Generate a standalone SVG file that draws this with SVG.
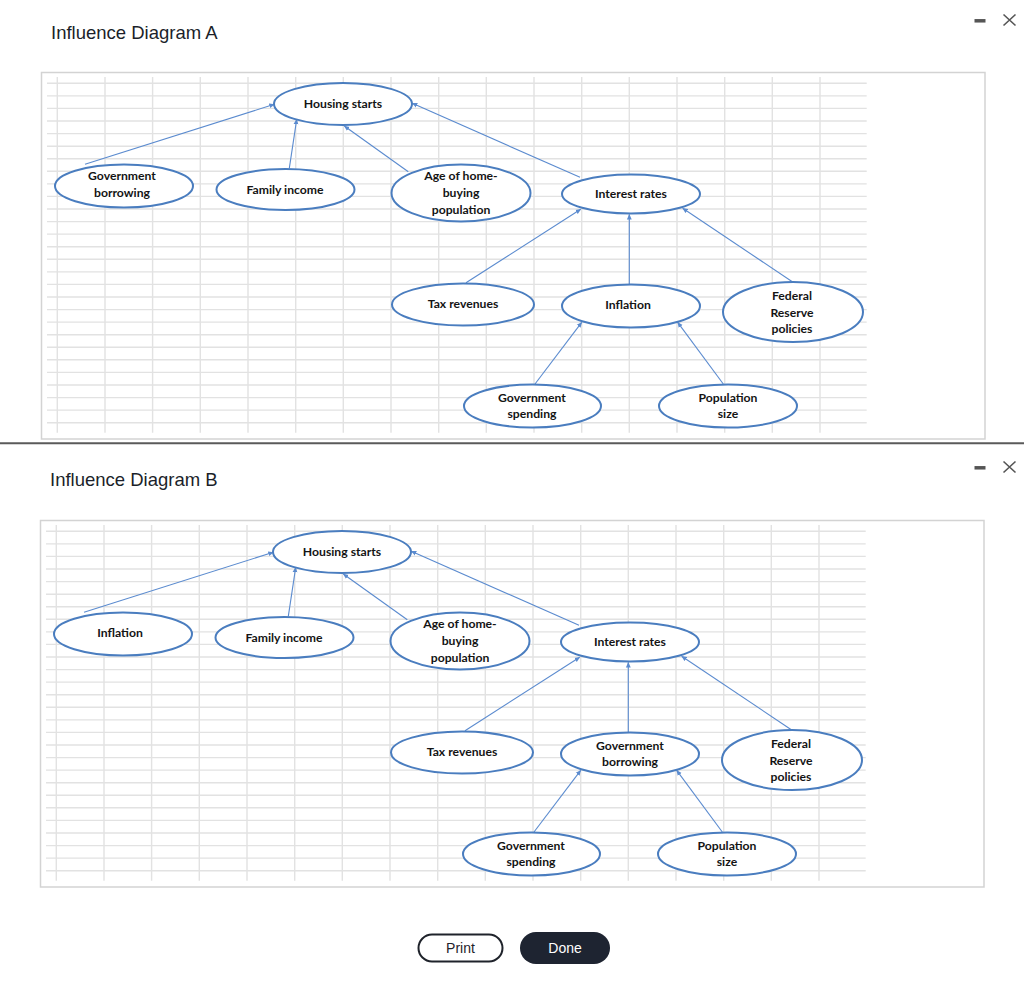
<svg xmlns="http://www.w3.org/2000/svg" xmlns:xlink="http://www.w3.org/1999/xlink" width="1024" height="986" viewBox="0 0 1024 986">
<style>
.title{font-family:Arial,"Liberation Sans",sans-serif;font-size:18.5px;fill:#1b1f2a}
.panel{fill:#ffffff;stroke:#d3d3d3;stroke-width:1.5}
.grid{fill:none;stroke:#e2e2e2;stroke-width:1.4}
.node ellipse{fill:#ffffff;stroke:#4a7dbf;stroke-width:2}
.node text{font-family:Lato,"Open Sans",sans-serif;font-weight:bold;font-size:12.2px;fill:#141414;text-anchor:middle}
.edge{stroke:#5b8bcf;stroke-width:1.1;fill:none;marker-end:url(#ah)}
.icon{stroke:#555;fill:none}
.btn{font-family:Arial,"Liberation Sans",sans-serif;font-size:14px;text-anchor:middle}
</style>
<defs>
<marker id="ah" markerWidth="6" markerHeight="6" refX="5" refY="3" orient="auto" markerUnits="userSpaceOnUse">
<path d="M0,0.6 L5.5,3 L0,5.4 Z" fill="#5b8bcf"/>
</marker>
<path id="gridpath" class="grid" d="M47,83.3H866.7M47,95.9H866.7M47,108.4H866.7M47,121H866.7M47,133.6H866.7M47,146.2H866.7M47,158.7H866.7M47,171.3H866.7M47,183.9H866.7M47,196.4H866.7M47,209H866.7M47,221.6H866.7M47,234.1H866.7M47,246.7H866.7M47,259.3H866.7M47,271.9H866.7M47,284.4H866.7M47,297H866.7M47,309.6H866.7M47,322.1H866.7M47,334.7H866.7M47,347.3H866.7M47,359.8H866.7M47,372.4H866.7M47,385H866.7M47,397.6H866.7M47,410.1H866.7M47,422.7H866.7M57.3,77V432.7M105,77V432.7M152.6,77V432.7M200.3,77V432.7M248,77V432.7M295.7,77V432.7M343.3,77V432.7M391,77V432.7M438.7,77V432.7M486.3,77V432.7M534,77V432.7M581.7,77V432.7M629.3,77V432.7M677,77V432.7M724.7,77V432.7M772.3,77V432.7M820,77V432.7"/>
</defs>
<rect width="1024" height="986" fill="#ffffff"/>

<!-- Header A -->
<text class="title" x="51" y="39">Influence Diagram A</text>
<path class="icon" d="M974.5,20.8H985.5" stroke-width="3.5"/>
<path class="icon" d="M1003.5,14.5L1015.5,25.5M1015.5,14.5L1003.5,25.5" stroke-width="1.6"/>

<!-- Panel A -->
<g id="panelA">
<rect class="panel" x="41.5" y="72.5" width="943.5" height="366.5"/>
<use xlink:href="#gridpath"/>
<g id="edgesA">
<path class="edge" d="M85,164.3L274.3,104.3"/>
<path class="edge" d="M289.3,168.3L296.7,119.3"/>
<path class="edge" d="M408.3,171.7L344.3,126"/>
<path class="edge" d="M580,177.3L412.3,103.3"/>
<path class="edge" d="M466,282.7L580.7,209.3"/>
<path class="edge" d="M629.3,284.5L629.3,214.5"/>
<path class="edge" d="M792.3,281.7L682.7,208.3"/>
<path class="edge" d="M535,384L581.7,322.3"/>
<path class="edge" d="M723.3,384L677.7,322.3"/>
</g>
<g id="A-housing" class="node"><ellipse cx="343" cy="104" rx="69" ry="21"/><text x="343" y="108">Housing starts</text></g>
<g id="A-govborrow" class="node"><ellipse cx="124" cy="186" rx="69" ry="21.5"/><text x="122" y="180">Government</text><text x="122" y="196.5">borrowing</text></g>
<g id="A-family" class="node"><ellipse cx="285.5" cy="189.5" rx="69" ry="20.5"/><text x="285" y="194">Family income</text></g>
<g id="A-age" class="node"><ellipse cx="461" cy="193" rx="69.5" ry="28.5"/><text x="461" y="180">Age of home-</text><text x="461" y="196.5">buying</text><text x="461" y="213.5">population</text></g>
<g id="A-interest" class="node"><ellipse cx="631" cy="194" rx="69" ry="19.5"/><text x="631" y="197.5">Interest rates</text></g>
<g id="A-tax" class="node"><ellipse cx="463" cy="304.5" rx="71" ry="21"/><text x="463" y="308">Tax revenues</text></g>
<g id="A-inflation" class="node"><ellipse cx="631" cy="306" rx="69" ry="21.5"/><text x="628" y="309">Inflation</text></g>
<g id="A-fed" class="node"><ellipse cx="793" cy="312" rx="70" ry="30"/><text x="792" y="300">Federal</text><text x="792" y="316.5">Reserve</text><text x="792" y="333">policies</text></g>
<g id="A-govspend" class="node"><ellipse cx="532.5" cy="406" rx="68.5" ry="21.5"/><text x="532" y="401.5">Government</text><text x="532" y="418">spending</text></g>
<g id="A-pop" class="node"><ellipse cx="728" cy="406" rx="69" ry="21.5"/><text x="728" y="401.5">Population</text><text x="728" y="418">size</text></g>
</g>

<!-- Separator -->
<path d="M0,443.3H1024" stroke="#5a5a5a" stroke-width="2"/>

<!-- Header B -->
<text class="title" x="50" y="486">Influence Diagram B</text>
<path class="icon" d="M974.5,467.8H985.5" stroke-width="3.5"/>
<path class="icon" d="M1003.5,461.5L1015.5,472.5M1015.5,461.5L1003.5,472.5" stroke-width="1.6"/>

<!-- Panel B -->
<g id="panelB" transform="translate(-1,448)">
<rect class="panel" x="41.5" y="72.5" width="943.5" height="366.5"/>
<use xlink:href="#gridpath"/>
<g id="edgesB">
<path class="edge" d="M85,164.3L274.3,104.3"/>
<path class="edge" d="M289.3,168.3L296.7,119.3"/>
<path class="edge" d="M408.3,171.7L344.3,126"/>
<path class="edge" d="M580,177.3L412.3,103.3"/>
<path class="edge" d="M466,282.7L580.7,209.3"/>
<path class="edge" d="M629.3,284.5L629.3,214.5"/>
<path class="edge" d="M792.3,281.7L682.7,208.3"/>
<path class="edge" d="M535,384L581.7,322.3"/>
<path class="edge" d="M723.3,384L677.7,322.3"/>
</g>
<g id="B-housing" class="node"><ellipse cx="343" cy="104" rx="69" ry="21"/><text x="343" y="108">Housing starts</text></g>
<g id="B-inflation" class="node"><ellipse cx="124" cy="186" rx="69" ry="21.5"/><text x="121" y="189">Inflation</text></g>
<g id="B-family" class="node"><ellipse cx="285.5" cy="189.5" rx="69" ry="20.5"/><text x="285" y="194">Family income</text></g>
<g id="B-age" class="node"><ellipse cx="461" cy="193" rx="69.5" ry="28.5"/><text x="461" y="180">Age of home-</text><text x="461" y="196.5">buying</text><text x="461" y="213.5">population</text></g>
<g id="B-interest" class="node"><ellipse cx="631" cy="194" rx="69" ry="19.5"/><text x="631" y="197.5">Interest rates</text></g>
<g id="B-tax" class="node"><ellipse cx="463" cy="304.5" rx="71" ry="21"/><text x="463" y="308">Tax revenues</text></g>
<g id="B-govborrow" class="node"><ellipse cx="631" cy="306" rx="69" ry="21.5"/><text x="631" y="301.5">Government</text><text x="631" y="318">borrowing</text></g>
<g id="B-fed" class="node"><ellipse cx="793" cy="312" rx="70" ry="30"/><text x="792" y="300">Federal</text><text x="792" y="316.5">Reserve</text><text x="792" y="333">policies</text></g>
<g id="B-govspend" class="node"><ellipse cx="532.5" cy="406" rx="68.5" ry="21.5"/><text x="532" y="401.5">Government</text><text x="532" y="418">spending</text></g>
<g id="B-pop" class="node"><ellipse cx="728" cy="406" rx="69" ry="21.5"/><text x="728" y="401.5">Population</text><text x="728" y="418">size</text></g>
</g>

<!-- Buttons -->
<g id="btn-print">
<rect x="418.5" y="934.5" width="84" height="27" rx="13.5" fill="#ffffff" stroke="#1f232b" stroke-width="2"/>
<text class="btn" x="460.5" y="953" fill="#1f232b">Print</text>
</g>
<g id="btn-done">
<rect x="520" y="932" width="90" height="32" rx="16" fill="#1e2431"/>
<text class="btn" x="565" y="953" fill="#ffffff">Done</text>
</g>
</svg>
